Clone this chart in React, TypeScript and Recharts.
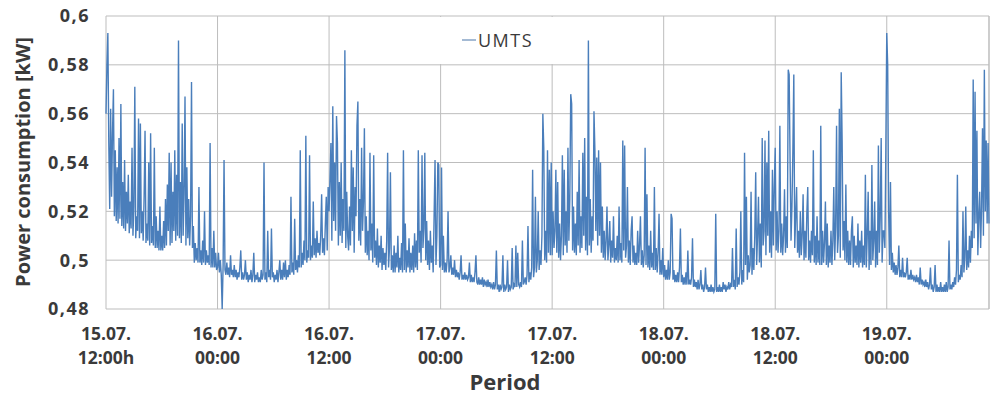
import React from "react";
import {
  LineChart,
  Line,
  XAxis,
  YAxis,
  CartesianGrid,
  Legend,
  ReferenceLine,
  Label,
} from "recharts";

// Power consumption readings in W, sampled every 0.1 h (one row of 10 = one hour),
// one array per 12-hour block starting 15.07. 12:00
const STEP_HOURS = 0.1;
const BLOCK_HOURS = 12;

const block1 = [
  560,580,593,548,521,562,526,552,570,518,
  545,516,538,515,550,517,564,514,532,513,
  541,512,528,515,535,511,524,513,546,510,
  522,571,509,518,512,558,509,556,511,520,
  508,526,553,507,515,508,540,506,552,507,
  514,506,546,505,518,505,512,504,522,504,
  510,504,516,505,525,506,531,512,544,506,
  540,507,528,512,545,508,535,510,590,509,
  532,507,556,510,527,567,506,538,509,525,
  506,518,573,505,514,499,507,500,505,499,
  530,499,504,498,508,499,520,498,504,499,
  502,498,548,497,505,497,512,497,503,496,
];
const block2 = [
  497,503,495,500,494,480,498,541,496,494,
  499,494,497,493,502,494,496,493,498,493,
  496,492,495,493,497,504,492,495,492,494,
  500,492,495,491,494,492,496,491,494,503,
  491,494,492,495,491,493,491,496,492,494,
  540,492,495,491,512,493,496,492,513,493,
  495,491,494,492,496,491,495,500,492,496,
  492,499,493,500,492,496,493,498,494,526,
  495,499,494,517,496,500,495,502,497,545,
  497,503,498,508,500,551,499,504,501,543,
  500,506,501,524,502,509,501,512,503,507,
  502,510,527,503,509,502,515,526,504,530,
];
const block3 = [
  520,534,548,508,563,516,540,512,559,548,
  506,532,510,540,507,525,512,586,505,528,
  510,504,522,506,545,512,538,503,530,518,
  555,565,508,525,506,546,512,524,554,503,
  518,502,512,500,544,504,515,499,543,501,
  508,498,513,497,506,499,510,496,505,498,
  503,496,508,544,497,505,536,496,502,495,
  506,495,503,497,510,495,501,496,507,495,
  545,496,515,495,504,497,509,495,503,496,
  506,495,511,497,508,496,545,503,512,499,
  543,505,513,544,500,516,498,508,496,512,
  499,506,495,518,541,498,510,540,539,497,
];
const block4 = [
  498,538,496,510,495,499,495,500,520,495,
  497,502,494,497,494,500,493,496,493,495,
  492,495,502,492,494,492,495,492,494,492,
  493,499,491,494,491,493,491,495,502,491,
  490,493,490,492,490,493,489,492,490,491,
  489,492,489,491,489,490,488,491,488,490,
  504,488,490,487,490,488,489,502,487,490,
  488,489,500,487,490,488,489,505,488,490,
  489,506,489,503,490,489,491,489,508,490,
  491,493,490,494,514,491,495,492,497,537,
  493,497,526,495,500,520,496,504,498,510,
  560,546,500,512,499,545,503,537,502,540,
];
const block5 = [
  502,520,505,512,537,503,532,501,515,500,
  510,543,502,537,506,520,503,546,508,525,
  568,564,504,522,503,515,502,528,506,541,
  503,518,505,544,510,550,504,526,502,590,
  506,525,503,518,508,561,545,512,542,506,
  545,510,540,503,522,501,512,500,508,522,
  500,506,516,499,508,501,518,499,505,500,
  510,499,522,500,507,499,549,504,547,501,
  506,530,499,508,498,512,518,499,506,498,
  503,498,512,499,506,518,498,504,497,502,
  546,498,527,497,506,496,512,497,503,496,
  530,496,505,495,503,519,494,500,494,505,
];
const block6 = [
  493,498,492,496,492,500,492,495,519,517,
  492,496,491,494,491,495,491,497,513,491,
  494,490,493,490,495,490,504,490,492,490,
  493,509,489,492,489,491,488,492,488,490,
  496,488,490,487,489,497,488,490,487,489,
  487,490,487,489,487,488,519,487,489,487,
  490,487,489,487,491,488,490,487,489,488,
  491,488,490,489,505,489,492,488,513,489,
  493,490,495,520,490,496,491,544,498,526,
  492,502,495,498,528,494,505,496,510,536,
  498,510,526,499,515,497,550,506,512,549,
  502,540,510,553,503,520,501,537,506,530,
];
const block7 = [
  546,504,520,503,512,555,503,515,502,510,
  529,503,518,505,578,576,540,508,522,545,
  576,505,518,530,503,512,501,520,502,510,
  527,500,512,501,519,530,500,508,499,512,
  502,545,499,510,498,518,499,508,498,555,
  498,512,499,507,524,498,515,497,506,499,
  512,498,508,530,500,514,555,503,510,562,
  501,577,549,504,516,500,531,499,512,498,
  508,498,512,518,497,510,499,506,498,515,
  497,508,499,512,497,506,498,535,497,510,
  528,496,512,498,539,500,508,524,497,512,
  498,547,503,518,550,499,512,512,505,545,
];
const block8 = [
  593,580,520,498,532,496,503,495,499,494,
  498,494,497,506,493,496,493,501,493,495,
  493,495,501,492,494,492,496,492,494,492,
  493,491,494,491,493,490,497,490,492,490,
  491,489,492,489,491,488,490,497,488,490,
  487,489,498,487,490,487,489,487,491,487,
  489,487,490,487,491,487,489,508,488,490,
  488,491,489,493,490,496,535,491,494,492,
  498,493,520,495,501,522,496,504,497,510,
  499,512,505,574,509,569,515,553,502,518,
  528,505,522,554,510,578,520,549,515,548,
  515,
];

const blocks = [block1, block2, block3, block4, block5, block6, block7, block8];

// hours since 15.07. 12:00
const xTicks = [0, 12, 24, 36, 48, 60, 72, 84];
const xTickDates = ["15.07.", "16.07.", "16.07.", "17.07.", "17.07.", "18.07.", "18.07.", "19.07."];
const xTickTimes = ["12:00h", "00:00", "12:00", "00:00", "12:00", "00:00", "12:00", "00:00"];
const X_END = 95;

const yTicks = [0.48, 0.5, 0.52, 0.54, 0.56, 0.58, 0.6];

const data = blocks.flatMap((blk, b) =>
  blk.map((w, i) => ({
    t: Math.round((b * BLOCK_HOURS + i * STEP_HOURS) * 10) / 10,
    umts: w / 1000,
  }))
);

const FONT = "'Open Sans', 'DejaVu Sans', sans-serif";
const TEXT = "#3a3a3a";
const GRID = "#bdbdbd";
const LINE = "#4a7ebb";

const XTick = (props: any) => {
  const { x, y, payload } = props;
  const idx = xTicks.indexOf(payload.value);
  if (idx < 0) return null;
  return (
    <g>
      <text x={x} y={y + 31} textAnchor="middle" fontFamily={FONT} fontWeight={700} fontSize={17.5} fill={TEXT}>
        {xTickDates[idx]}
      </text>
      <text x={x} y={y + 55} textAnchor="middle" fontFamily={FONT} fontWeight={700} fontSize={17.5} fill={TEXT}>
        {xTickTimes[idx]}
      </text>
    </g>
  );
};

const fmtY = (v: number) => String(Math.round(v * 100) / 100).replace(".", ",");

const LegendBox = () => (
  <div style={{ position: "relative", width: 120, height: 47, background: "#fff" }}>
    <svg width={16} height={4} style={{ position: "absolute", left: 27, top: 21 }}>
      <line x1={0} y1={2} x2={14} y2={2} stroke="#86a3c6" strokeWidth={1.5} />
    </svg>
    <span
      style={{
        position: "absolute",
        left: 43,
        top: 13,
        fontFamily: FONT,
        fontSize: 18,
        lineHeight: "20px",
        letterSpacing: 1.5,
        color: TEXT,
        whiteSpace: "nowrap",
      }}
    >
      UMTS
    </span>
  </div>
);

export default function App() {
  return (
    <div style={{ width: 1000, height: 400, margin: "-8px 0 0 -8px", fontFamily: FONT }}>
      <LineChart width={1000} height={400} data={data} margin={{ top: 16, right: 11, bottom: 8, left: 0 }}>
        <CartesianGrid stroke={GRID} strokeWidth={1} />
        <XAxis
          dataKey="t"
          type="number"
          domain={[0, X_END]}
          ticks={xTicks}
          tick={<XTick />}
          tickLine={false}
          axisLine={false}
          tickSize={0}
          tickMargin={0}
          height={83}
          interval={0}
        >
          <Label
            content={() => (
              <text x={505} y={390} textAnchor="middle" fontFamily={FONT} fontWeight={700} fontSize={22} fill={TEXT}>
                Period
              </text>
            )}
          />
        </XAxis>
        <YAxis
          type="number"
          domain={[0.48, 0.6]}
          ticks={yTicks}
          tickFormatter={fmtY}
          tick={{ fontFamily: FONT, fontWeight: 700, fontSize: 18, fill: TEXT, letterSpacing: 1.5 }}
          tickLine={false}
          axisLine={false}
          tickSize={0}
          tickMargin={16}
          width={106}
          interval={0}
          allowDataOverflow
        >
          <Label
            content={() => (
              <text
                x={22}
                y={162}
                transform="rotate(-90 22 162)"
                textAnchor="middle"
                dominantBaseline="central"
                fontFamily={FONT}
                fontWeight={700}
                fontSize={20}
                fill={TEXT}
              >
                Power consumption [kW]
              </text>
            )}
          />
        </YAxis>
        <ReferenceLine x={X_END} stroke={GRID} strokeWidth={1} />
        <Legend
          layout="vertical"
          align="center"
          verticalAlign="middle"
          content={() => <LegendBox />}
          wrapperStyle={{ top: 17, left: 435, width: 120, height: 47 }}
        />
        <Line
          type="linear"
          dataKey="umts"
          name="UMTS"
          stroke={LINE}
          strokeWidth={1.4}
          strokeLinejoin="miter"
          dot={false}
          activeDot={false}
          isAnimationActive={false}
        />
      </LineChart>
    </div>
  );
}
